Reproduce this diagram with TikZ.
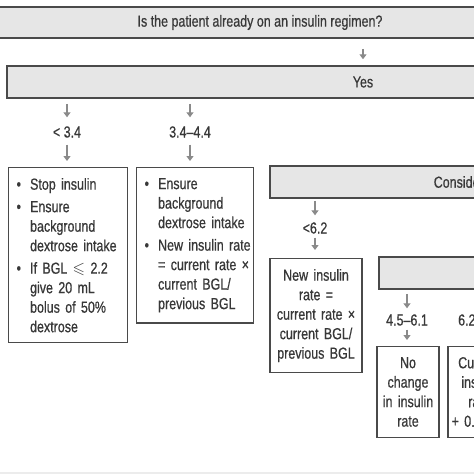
\documentclass[tikz,border=0pt]{standalone}
\usepackage{fontspec}
\setmainfont{Liberation Sans}[FakeStretch=0.78,FakeBold=0.6]
\usepackage{amssymb}
\usetikzlibrary{arrows.meta}
\definecolor{bord}{HTML}{4A4A4A}
\definecolor{boxg}{HTML}{E6E6E6}
\definecolor{txt}{HTML}{383838}
\definecolor{arrc}{HTML}{8A8A8A}
\definecolor{stripc}{HTML}{ECECEC}
\newcommand\bfirst{\hangindent=18pt\hangafter=1\noindent\hbox to 18pt{\hspace{4.5pt}\textbullet\hfil}}
\newcommand\bitem{\par\bfirst}
\hfuzz=20pt
\begin{document}
\begin{tikzpicture}[x=1pt,y=-1pt,
  font=\fontsize{16}{19.5}\selectfont, text=txt,
  graybox/.style={draw=bord, fill=boxg, line width=1.5pt, minimum height=32pt, inner sep=0pt},
  whitebox/.style={draw=bord, line width=1.2pt, fill=white, inner xsep=3.5pt, inner ysep=10.5pt},
  cbox/.style={draw=bord, line width=1.2pt, fill=white, inner xsep=3pt, inner ysep=10.5pt, align=center},
  lab/.style={inner sep=0pt, text height=11pt, text depth=0pt},
  arr/.style={draw=arrc, line width=1.3pt, -{Triangle[width=7pt,length=5pt]}, shorten <=5pt, shorten >=6pt}]
\useasboundingbox (0,0) rectangle (474,474);
\clip (0,0) rectangle (474,474);
\fill[stripc] (0,472) rectangle (474,474);
% top
\node[graybox, minimum width=524pt, minimum height=31pt] (q) at (260,22.5) {Is the patient already on an insulin regimen?};
\node[graybox, minimum width=712pt] (yes) at (363,82) {Yes};
\draw[arr, shorten <=10pt] (q.south -| yes) -- (yes);
% left branch labels
\node[lab] (l1) at (67,132) {< 3.4};
\node[lab] (l2) at (190,132) {3.4–4.4};
\draw[arr, shorten >=9pt] (yes.south -| l1) -- (l1);
\draw[arr, shorten >=9pt] (yes.south -| l2) -- (l2);
% box 1
\node[whitebox, anchor=north west, text width=112pt] (b1) at (8,167) {%
\setlength\parskip{3pt}%
\bfirst Stop insulin
\bitem Ensure\newline background\newline dextrose intake
\bitem If BGL $\leqslant$ 2.2\newline give 20 mL\newline bolus of 50\%\newline dextrose\par};
% box 2
\node[whitebox, anchor=north west, text width=110pt] (b2) at (136,167) {%
\setlength\parskip{3pt}%
\bfirst Ensure\newline background\newline dextrose intake
\bitem \mbox{New insulin rate}\newline \mbox{= current rate ×}\newline current BGL/\newline previous BGL\par};
\draw[arr, shorten <=7pt] (l1) -- (l1 |- b1.north);
\draw[arr, shorten <=7pt] (l2) -- (l2 |- b2.north);
% consider branch
\node[graybox, anchor=west, text width=400pt, align=left] (cons) at (269,182) {\hspace*{164pt}Consider};
\node[lab] (l3) at (315,228) {<6.2};
\draw[arr, shorten <=2pt, shorten >=7pt] (cons.south -| l3) -- (l3);
\node[cbox, anchor=north, text width=86pt] (nb) at (316,258) {New insulin\\rate =\\current rate ×\\current BGL/\\previous BGL};
\draw[arr, shorten <=4pt, shorten >=8pt] (l3) -- (l3 |- nb.north);
% third gray box
\node[graybox, minimum width=300pt, anchor=west] (g3) at (378,273) {};
\node[lab] (l4) at (407,320) {4.5–6.1};
\node[lab] (l5) at (479,320) {6.2–8.0};
\draw[arr, shorten <=4pt] (g3.south -| l4) -- (l4);
\draw[arr, shorten <=4pt] (g3.south -| l5) -- (l5);
\node[cbox, anchor=north, text width=56pt] (nc) at (408,346) {No\\change\\in insulin\\rate};
\node[cbox, anchor=north, text width=56pt] (cr) at (479,346) {Current\\insulin\\rate\\+ 0.5 U/h};
\draw[arr, shorten <=4pt] (l4) -- (l4 |- nc.north);
\draw[arr, shorten <=4pt] (l5) -- (l5 |- cr.north);
\end{tikzpicture}
\end{document}
